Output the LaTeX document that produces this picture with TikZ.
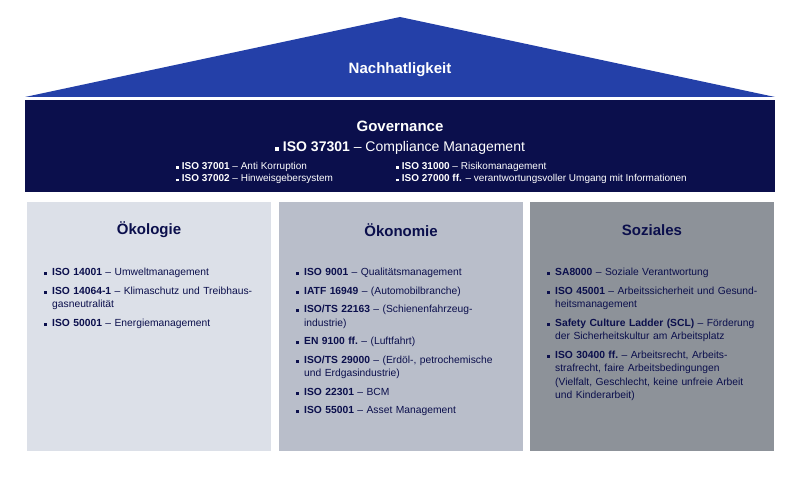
\documentclass[tikz,border=0pt]{standalone}
\usepackage{fontspec}
\setmainfont{Liberation Sans}
\definecolor{navy}{HTML}{0B0F4C}
\definecolor{roofblue}{HTML}{2440A8}
\definecolor{colA}{HTML}{DCE0E8}
\definecolor{colB}{HTML}{B9BECA}
\definecolor{colC}{HTML}{8D9299}
\newcommand{\sq}{\rule[0.1ex]{0.55ex}{0.55ex}}
\newcommand{\itm}[2]{\par\hangindent=8pt\hangafter=1\noindent\makebox[8pt][l]{\sq}\textbf{#1}~#2\par\vspace{5pt}}
\tikzset{
 colbox/.style={draw=none,minimum width=244pt,minimum height=249pt,anchor=north west,inner sep=0pt},
 head/.style={font=\fontsize{15}{18}\selectfont\bfseries,text=navy},
 list/.style={anchor=north west,text width=212pt,align=left,font=\fontsize{10.3}{13.5}\selectfont,text=navy,inner sep=0pt}
}
\begin{document}
\begin{tikzpicture}[x=1pt,y=-1pt]
\useasboundingbox (0,0) rectangle (800,481);
\fill[white] (0,0) rectangle (800,481);
\coordinate (L) at (25,97); \coordinate (R) at (775,97); \coordinate (T) at (400,17);
\fill[roofblue] (L) -- (T) -- (R) -- cycle;
\node[text=white,font=\fontsize{15}{18}\selectfont\bfseries] (roof) at (400,70) {Nachhatligkeit};
\node[fill=navy,minimum width=750pt,minimum height=92pt,anchor=north west,inner sep=0pt] (gov) at (25,100) {};
\node[text=white,font=\fontsize{15}{18}\selectfont\bfseries] (govt) at (400,126) {Governance};
\node[text=white,font=\fontsize{14}{16}\selectfont] (comp) at (400,148) {\sq\ \textbf{ISO 37301} – Compliance Management};
\node[text=white,anchor=north west,align=left,inner sep=0pt,font=\fontsize{10}{12.5}\selectfont] (g1) at (176,162) {\sq\ \textbf{ISO 37001} – Anti Korruption\\ \sq\ \textbf{ISO 37002} – Hinweisgebersystem};
\node[text=white,anchor=north west,align=left,inner sep=0pt,font=\fontsize{10}{12.5}\selectfont] (g2) at (396,162) {\sq\ \textbf{ISO 31000} – Risikomanagement\\ \sq\ \textbf{ISO 27000 ff.} – verantwortungsvoller Umgang mit Informationen};
\node[colbox,fill=colA] (c1) at (27,202) {};
\node[colbox,fill=colB] (c2) at (279,202) {};
\node[colbox,fill=colC] (c3) at (530,202) {};
\node[head] (h1) at (149,230) {Ökologie};
\node[head] (h2) at (401,230) {Ökonomie};
\node[head] (h3) at (652,230) {Soziales};
\node[list] (l1) at (44,262) {\itm{ISO 14001}{– Umweltmanagement}\itm{ISO 14064-1}{– Klimaschutz und Treibhausgasneutralität}\itm{ISO 50001}{– Energiemanagement}};
\node[list] (l2) at (296,262) {\itm{ISO 9001}{– Qualitätsmanagement}\itm{IATF 16949}{– (Automobilbranche)}\itm{ISO/TS 22163}{– (Schienenfahrzeug-industrie)}\itm{EN 9100 ff.}{– (Luftfahrt)}\itm{ISO/TS 29000}{– (Erdöl-, petrochemische und Erdgasindustrie)}\itm{ISO 22301}{– BCM}\itm{ISO 55001}{– Asset Management}};
\node[list] (l3) at (547,262) {\itm{SA8000}{– Soziale Verantwortung}\itm{ISO 45001}{– Arbeitssicherheit und Gesundheitsmanagement}\itm{Safety Culture Ladder (SCL)}{– Förderung der Sicherheitskultur am Arbeitsplatz}\itm{ISO 30400 ff.}{– Arbeitsrecht, Arbeits\-strafrecht, faire Arbeitsbedingungen (Vielfalt, Geschlecht, keine unfreie Arbeit und Kinderarbeit)}};
\end{tikzpicture}
\end{document}
